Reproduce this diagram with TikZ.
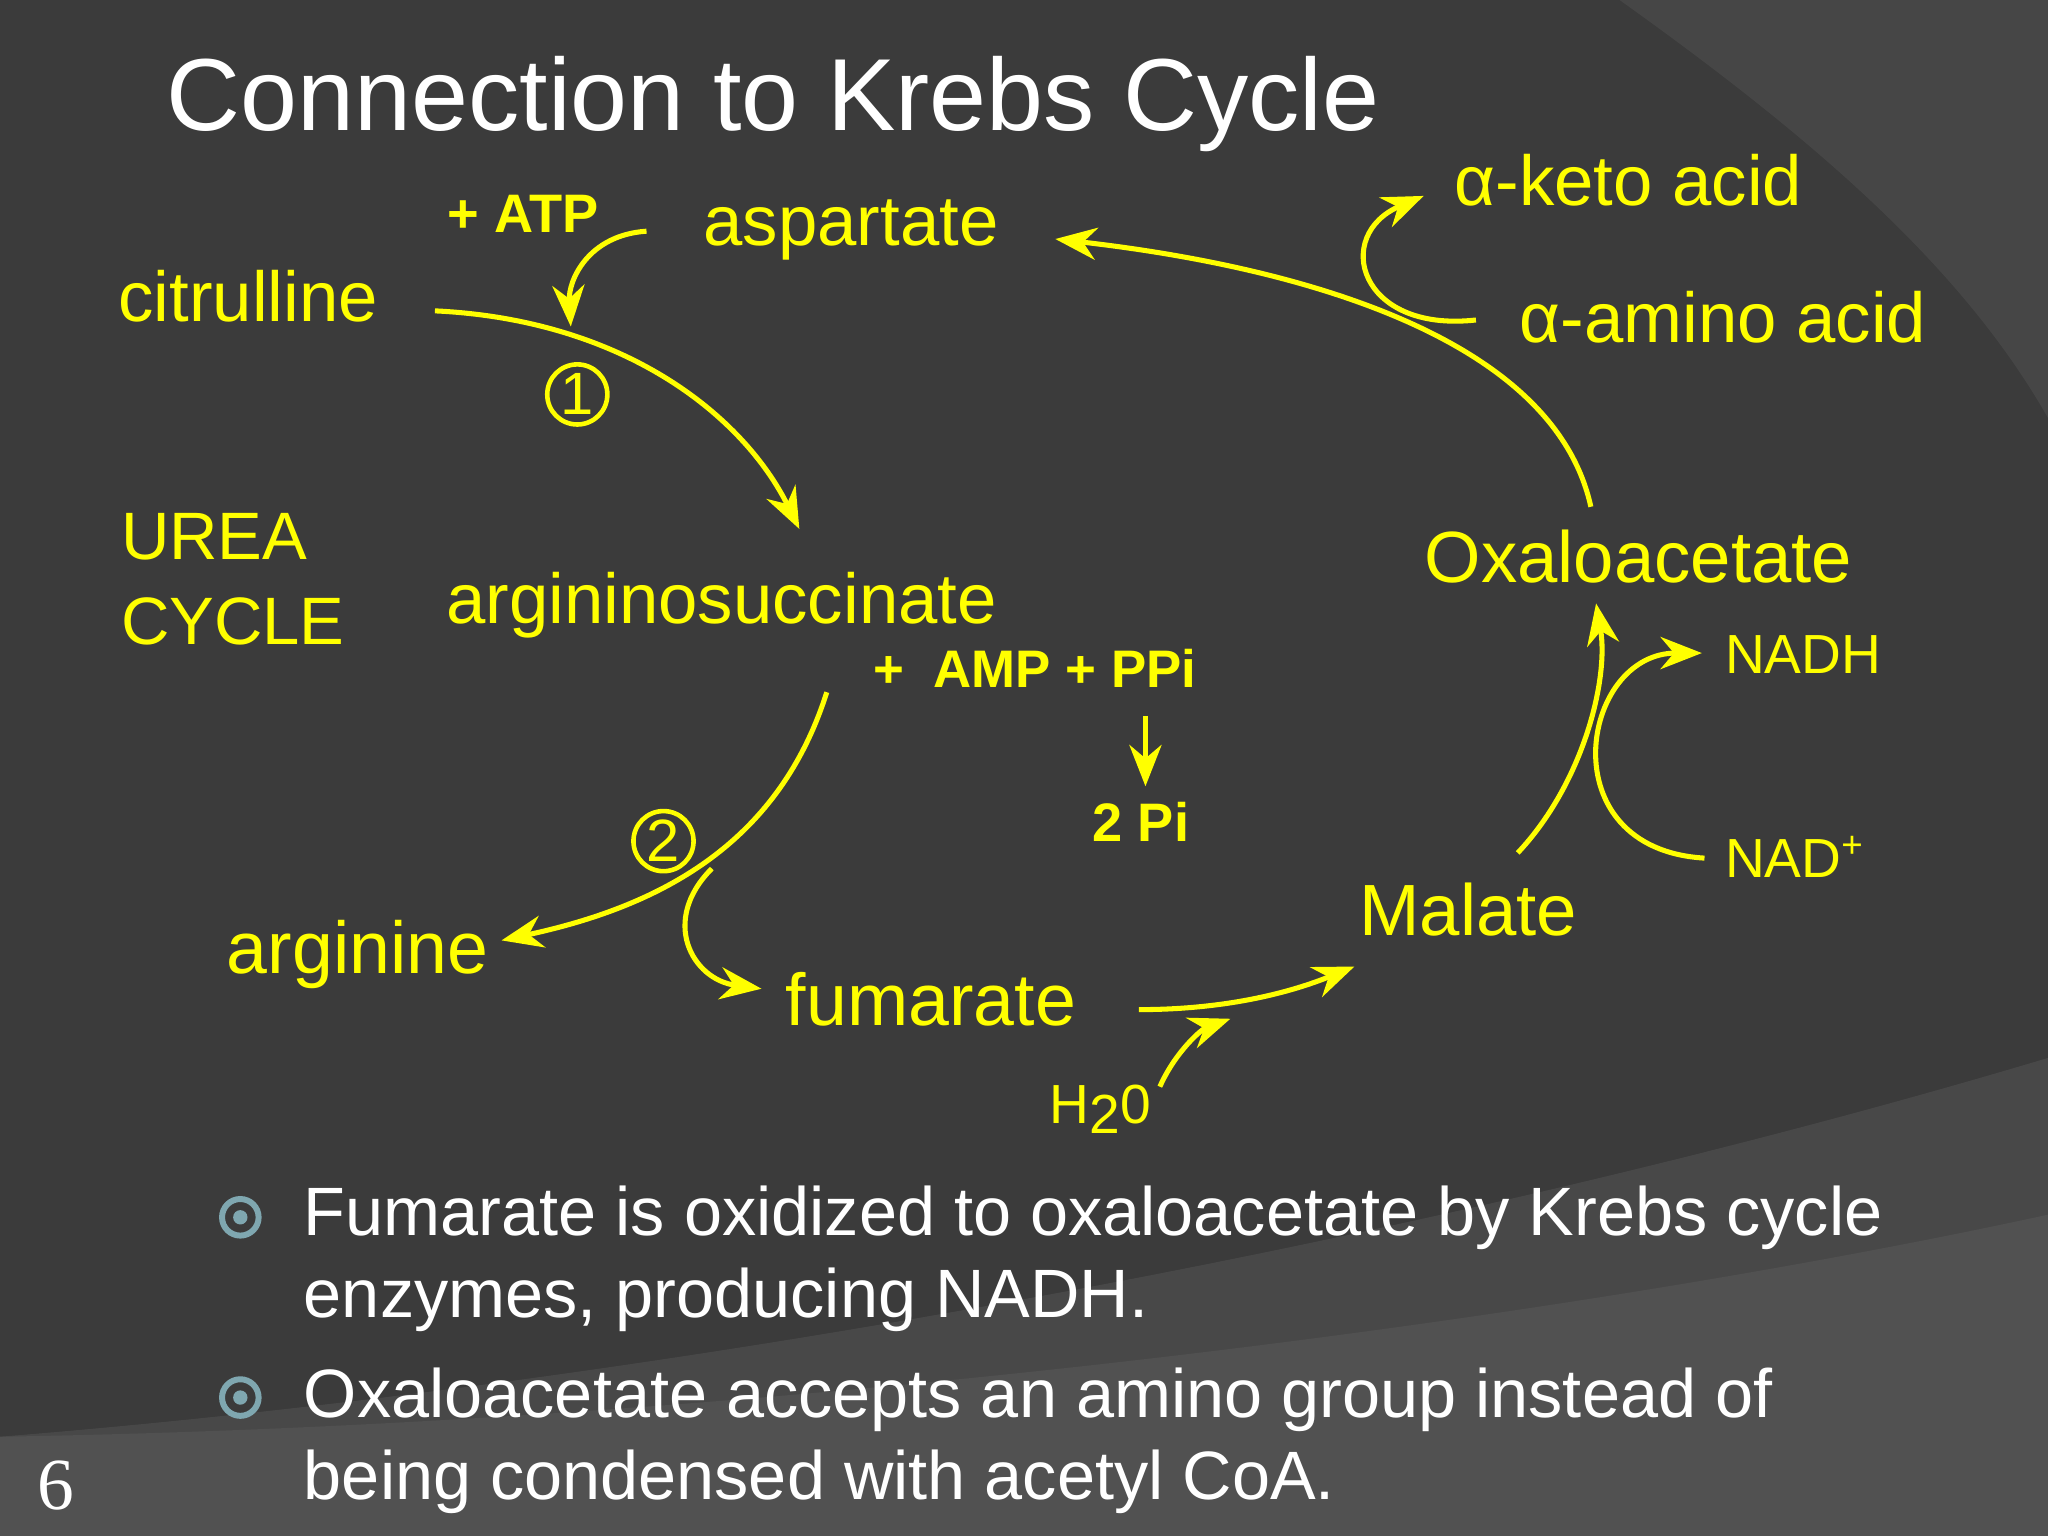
\documentclass[tikz,border=0pt]{standalone}
\usepackage{fontspec}
\setmainfont{Liberation Sans}
\newfontfamily\serifnum{Liberation Serif}
\usetikzlibrary{arrows.meta}
\definecolor{bg}{HTML}{3B3B3B}
\definecolor{yel}{HTML}{FFFF00}
\definecolor{bul}{HTML}{7FA7B0}
\tikzset{x=0.01cm,y=-0.01cm,
 lab/.style={text=yel,inner sep=0pt,anchor=base west,font=\fontsize{15.4pt}{18pt}\selectfont},
 big/.style={lab,font=\fontsize{16pt}{19pt}\selectfont},
 sm/.style={lab,font=\fontsize{12pt}{14pt}\selectfont},
 bsm/.style={lab,font=\fontsize{11.8pt}{14pt}\selectfont\bfseries},
 arr/.style={draw=yel,line width=1.1pt,-{Stealth[length=9pt,width=7pt]}},
 circ/.style={circle,draw=yel,line width=1pt,text=yel,minimum size=0.46cm,inner sep=0pt,font=\fontsize{13pt}{14pt}\selectfont},
 bt/.style={text=white,inner sep=0pt,anchor=base west,font=\fontsize{14.9pt}{18pt}\selectfont}}
\begin{document}
\begin{tikzpicture}
\fill[bg] (0,0) rectangle (1568,1176);
\useasboundingbox (0,0) rectangle (1568,1176);
\fill[white,opacity=0.06] (1240,0) .. controls (1380,100) and (1500,200) .. (1568,320) -- (1568,0) -- cycle;
\fill[white,opacity=0.07] (0,1100) .. controls (500,1060) and (1100,950) .. (1568,810) -- (1568,1176) -- (0,1176) -- cycle;
\fill[white,opacity=0.05] (0,1100) .. controls (600,1090) and (1200,1010) .. (1568,930) -- (1568,1176) -- (0,1176) -- cycle;
\node[text=white,inner sep=0pt,anchor=base west,font=\fontsize{22.3pt}{26pt}\selectfont] (title) at (127,100) {Connection to Krebs Cycle};
\node[bsm] (atp) at (342,178) {+ ATP};
\node[lab] (asp) at (538,188) {aspartate};
\node[lab] (cit) at (90,246) {citrulline};
\node[lab] (keto) at (1113,157) {α-keto acid};
\node[lab] (amino) at (1163,262) {α-amino acid};
\node[lab,align=left,anchor=north west,font=\fontsize{14.6pt}{18.5pt}\selectfont] (urea) at (92,392) {UREA\\CYCLE};
\node[lab] (arsuc) at (341,477) {argininosuccinate};
\node[lab,font=\fontsize{11.5pt}{14pt}\selectfont\bfseries] (amp) at (668,526) {+\ \ AMP + PPi};
\node[bsm] (pi) at (836,644) {2 Pi};
\node[circ] (c1) at (442,302) {1};
\node[circ] (c2) at (508,644) {2};
\node[big,font=\fontsize{15.8pt}{19pt}\selectfont] (oxa) at (1090,446) {Oxaloacetate};
\node[sm] (nadh) at (1320,516) {NADH};
\node[sm] (nad) at (1320,672) {NAD\textsuperscript{+}};
\node[big,font=\fontsize{15.8pt}{19pt}\selectfont] (mal) at (1040,716) {Malate};
\node[big] (arg) at (173,745) {arginine};
\node[big] (fum) at (601,785) {fumarate};
\node[sm] (h2o) at (803,860) {H\raisebox{-0.35ex}{2}0};
\coordinate (a1) at (333,238); \coordinate (a2) at (612,405);
\draw[arr] (a1) .. controls (480,245) and (570,320) .. (a2);
\coordinate (b1) at (495,177); \coordinate (b2) at (437,250);
\draw[arr] (b1) .. controls (450,180) and (435,215) .. (b2);
\coordinate (o1) at (1218,388); \coordinate (o2) at (808,183);
\draw[arr] (o1) .. controls (1190,260) and (1000,205) .. (o2);
\coordinate (k1) at (1130,245); \coordinate (k2) at (1090,150);
\draw[arr] (k1) .. controls (1040,255) and (1020,180) .. (k2);
\coordinate (s1) at (633,530); \coordinate (s2) at (384,720);
\draw[arr] (s1) .. controls (595,650) and (500,695) .. (s2);
\coordinate (f1) at (545,665); \coordinate (f2) at (583,757);
\draw[arr] (f1) .. controls (505,705) and (530,750) .. (f2);
\coordinate (p1) at (877,548); \coordinate (p2) at (877,602);
\draw[arr] (p1) -- (p2);
\coordinate (m1) at (872,773); \coordinate (m2) at (1037,740);
\draw[arr] (m1) .. controls (950,773) and (1000,755) .. (m2);
\coordinate (h1) at (888,832); \coordinate (h2) at (942,780);
\draw[arr] (h1) .. controls (900,805) and (920,788) .. (h2);
\coordinate (x1) at (1162,653); \coordinate (x2) at (1222,462);
\draw[arr] (x1) .. controls (1212,600) and (1232,520) .. (x2);
\coordinate (n1) at (1305,657); \coordinate (n2) at (1303,500);
\draw[arr] (n1) .. controls (1185,650) and (1210,500) .. (n2);
\foreach \y/\n in {932/b1c,1070/b2c}{
 \node[circle,draw=bul,line width=1.3pt,minimum size=0.28cm,inner sep=0pt] (\n) at (184,\y) {};
 \fill[bul] (184,\y) circle (5.5);}
\node[bt] (t1) at (232,946) {Fumarate is oxidized to oxaloacetate by Krebs cycle};
\node[bt] (t2) at (232,1009) {enzymes, producing NADH.};
\node[bt] (t3) at (232,1085) {Oxaloacetate accepts an amino group instead of};
\node[bt] (t4) at (232,1148) {being condensed with acetyl CoA.};
\node[text=white,inner sep=0pt,anchor=base west,font=\serifnum\fontsize{16pt}{18pt}\selectfont] (pg) at (28,1156) {6};
\end{tikzpicture}
\end{document}
